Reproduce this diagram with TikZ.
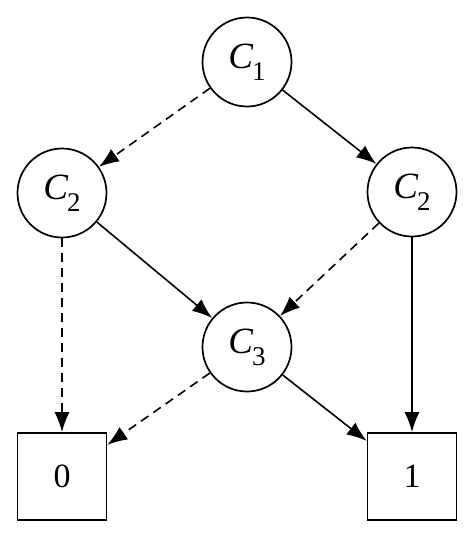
\documentclass[tikz,border=0pt]{standalone}
\usepackage{fontspec}
\setmainfont{Liberation Serif}
\usetikzlibrary{arrows.meta}
\newcommand{\cvar}[1]{{\itshape C}\kern-1pt\raisebox{-0.32em}{\fontsize{27}{29}\selectfont #1}}
\tikzset{
  cnode/.style={circle, draw, line width=1.7pt, minimum size=89pt, inner sep=0pt, font=\fontsize{37}{40}\selectfont},
  tnode/.style={rectangle, draw, line width=1.7pt, minimum width=89pt, minimum height=87pt, inner sep=0pt, font=\fontsize{34}{36}\selectfont},
  hi/.style={-{Latex[length=20pt,width=15pt]}, line width=1.6pt},
  lo/.style={hi, dash pattern=on 9pt off 6pt},
}
\begin{document}
\begin{tikzpicture}[x=1pt,y=-1pt]
\useasboundingbox (0,0) rectangle (474,539);
\node[cnode] (c1) at (247,62) {\cvar{1}};
\node[cnode] (c2l) at (62,193) {\cvar{2}};
\node[cnode] (c2r) at (412,192) {\cvar{2}};
\node[cnode] (c3) at (247,347) {\cvar{3}};
\node[tnode] (t0) at (62,476.5) {0};
\node[tnode] (t1) at (412,476.5) {1};
\draw[lo] (c1) -- (c2l);
\draw[hi] (c1) -- (c2r);
\draw[lo] (c2l) -- (t0);
\draw[hi] (c2l) -- (c3);
\draw[lo] (c2r) -- (c3);
\draw[hi] (c2r) -- (t1);
\draw[lo] (c3) -- (t0);
\draw[hi] (c3) -- (t1);
\end{tikzpicture}
\end{document}
